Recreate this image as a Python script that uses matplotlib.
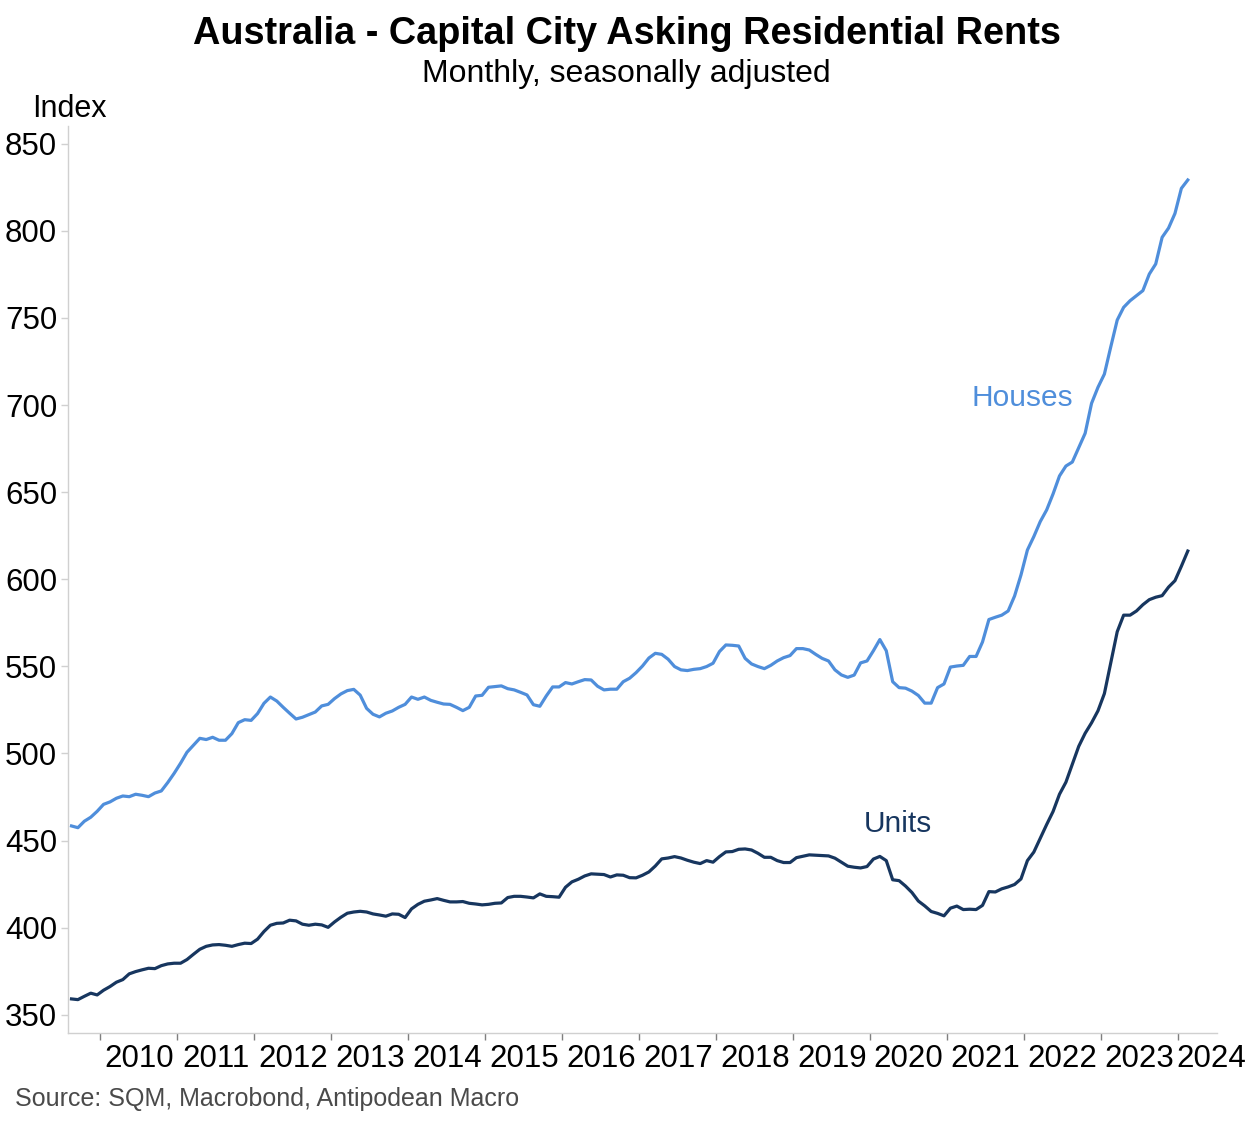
#!/usr/bin/env python3

import matplotlib

matplotlib.use("Agg")
import matplotlib.pyplot as plt
import numpy as np
from matplotlib.ticker import FixedLocator, NullFormatter

# monthly, Aug 2009 .. Feb 2024 (175 obs)
START_YEAR = 2009
START_MONTH = 8

HOUSES = [
    458.4, 457.4, 461.1, 463.4, 466.8, 470.8, 472.2, 474.3, 475.6, 475.2,
    476.6, 476.0, 475.2, 477.3, 478.5, 483.3, 488.6, 494.4, 500.7, 504.7,
    508.7, 508.0, 509.3, 507.6, 507.6, 511.4, 517.7, 519.4, 519.0, 522.9,
    528.8, 532.4, 530.1, 526.5, 523.1, 519.8, 520.8, 522.3, 523.8, 527.3,
    528.2, 531.5, 534.2, 536.1, 536.8, 533.5, 525.9, 522.5, 521.0, 523.1,
    524.4, 526.5, 528.2, 532.4, 531.1, 532.4, 530.5, 529.4, 528.4, 528.2,
    526.5, 524.6, 526.5, 533.0, 533.4, 538.0, 538.4, 538.8, 537.2, 536.5,
    535.1, 533.6, 528.0, 527.1, 533.0, 538.2, 538.2, 540.7, 539.9, 541.2,
    542.4, 542.2, 538.6, 536.5, 536.9, 536.9, 541.2, 543.2, 546.4, 550.2,
    554.8, 557.5, 556.9, 554.1, 549.9, 548.0, 547.6, 548.3, 548.7, 549.9,
    551.8, 558.5, 562.3, 562.1, 561.7, 554.6, 551.4, 549.9, 548.7, 550.6,
    553.1, 555.0, 556.2, 560.2, 560.2, 559.4, 556.9, 554.6, 553.1, 548.0,
    545.1, 543.7, 545.0, 552.0, 553.1, 559.0, 565.4, 559.0, 541.2, 537.8,
    537.5, 535.8, 533.3, 528.9, 528.9, 537.8, 539.9, 549.6, 550.2, 550.6,
    555.7, 555.7, 564.0, 576.9, 578.2, 579.4, 581.8, 590.4, 602.5, 616.8,
    624.5, 633.1, 639.8, 649.0, 659.3, 665.0, 667.3, 675.6, 683.8, 701.0,
    710.2, 717.8, 733.5, 748.8, 756.1, 759.9, 762.8, 765.7, 775.2, 781.0,
    796.3, 801.6, 810.0, 824.4, 829.2,
]

UNITS = [
    359.1, 358.7, 360.6, 362.4, 361.4, 364.1, 366.2, 368.7, 370.2, 373.5,
    374.8, 375.8, 376.7, 376.5, 378.2, 379.2, 379.6, 379.6, 381.7, 384.7,
    387.6, 389.3, 390.1, 390.3, 389.9, 389.3, 390.3, 391.1, 390.9, 393.4,
    397.8, 401.4, 402.5, 402.7, 404.3, 403.9, 402.0, 401.4, 402.0, 401.6,
    400.2, 403.3, 406.0, 408.3, 409.0, 409.4, 409.0, 407.9, 407.3, 406.6,
    407.9, 407.7, 405.8, 410.8, 413.4, 415.2, 415.9, 416.7, 415.7, 414.8,
    414.8, 415.0, 414.0, 413.6, 413.1, 413.4, 414.0, 414.2, 417.3, 418.0,
    418.0, 417.6, 417.1, 419.4, 418.0, 417.8, 417.5, 423.2, 426.3, 427.8,
    429.7, 430.9, 430.7, 430.5, 429.1, 430.3, 430.1, 428.7, 428.6, 430.1,
    432.0, 435.4, 439.5, 440.0, 440.8, 440.0, 438.7, 437.6, 436.8, 438.5,
    437.6, 440.8, 443.5, 443.7, 445.0, 445.2, 444.6, 442.7, 440.4, 440.4,
    438.5, 437.4, 437.4, 440.2, 441.0, 441.8, 441.6, 441.4, 441.2, 439.9,
    437.6, 435.3, 434.7, 434.3, 435.1, 439.4, 440.9, 438.5, 427.5, 427.0,
    423.9, 420.2, 415.3, 412.5, 409.3, 408.2, 406.8, 411.2, 412.4, 410.4,
    410.6, 410.4, 412.8, 420.7, 420.5, 422.3, 423.4, 424.8, 428.0, 438.5,
    443.4, 451.3, 459.2, 466.7, 476.6, 483.5, 493.8, 504.1, 511.6, 517.6,
    524.5, 534.4, 552.2, 569.9, 579.4, 579.4, 581.8, 585.4, 588.3, 589.7,
    590.6, 595.5, 599.2, 607.5, 616.2,
]

YEAR_TICKS = list(range(2010, 2025))
Y_TICKS = [350, 400, 450, 500, 550, 600, 650, 700, 750, 800, 850]

HOUSES_COLOR = "#4F8EDB"
UNITS_COLOR = "#17365F"
SPINE_COLOR = "#d0d0d0"
TICK_COLOR = "#7f7f7f"
SOURCE_COLOR = "#4a4a4a"
FONT = "Liberation Sans"
TICK_FONT = 22.5

plt.rcParams.update({"font.family": FONT})


def month_axis(n):
    # mid-month positions in decimal years
    start = START_YEAR + (START_MONTH - 1) / 12.0
    return start + (np.arange(n) + 0.5) / 12.0


def main():
    t = month_axis(len(HOUSES))
    x_left = START_YEAR + (START_MONTH - 1) / 12.0
    x_right = YEAR_TICKS[-1] + 0.5

    fig = plt.figure(figsize=(12.53, 11.22), dpi=100)
    ax = fig.add_axes([0.0545, 0.0791, 0.9165, 0.8086])

    ax.plot(t, HOUSES, color=HOUSES_COLOR, lw=2.3, solid_joinstyle="round")
    ax.plot(t, UNITS, color=UNITS_COLOR, lw=2.3, solid_joinstyle="round")

    ax.set_xlim(x_left, x_right)
    ax.set_ylim(339.4, 860.2)

    for side in ("top", "right"):
        ax.spines[side].set_visible(False)
    for side in ("left", "bottom"):
        ax.spines[side].set_color(SPINE_COLOR)
        ax.spines[side].set_linewidth(1.0)

    ax.set_yticks(Y_TICKS)
    ax.set_yticklabels([str(v) for v in Y_TICKS])
    ax.tick_params(axis="y", direction="out", length=5, width=1.0,
                   color=SPINE_COLOR, labelsize=TICK_FONT, pad=3)

    # year ticks at Jan 1, labels centred on the year
    ax.xaxis.set_major_locator(FixedLocator(YEAR_TICKS))
    ax.xaxis.set_major_formatter(NullFormatter())
    label_pos = [min(y + 0.5, x_right - 0.075) for y in YEAR_TICKS]
    ax.xaxis.set_minor_locator(FixedLocator(label_pos))
    ax.set_xticklabels([str(y) for y in YEAR_TICKS], minor=True)
    ax.tick_params(axis="x", which="major", direction="out", length=5,
                   width=1.0, color=TICK_COLOR)
    ax.tick_params(axis="x", which="minor", length=0, labelsize=TICK_FONT, pad=8)

    ax.text(2021.31, 699.5, "Houses", color=HOUSES_COLOR, fontsize=21.5,
            ha="left", va="baseline")
    ax.text(2019.92, 455.0, "Units", color=UNITS_COLOR, fontsize=21.5,
            ha="left", va="baseline")

    fig.text(0.5, 0.9608, "Australia - Capital City Asking Residential Rents",
             ha="center", va="baseline", fontsize=27.3, fontweight="bold")
    fig.text(0.5, 0.9269, "Monthly, seasonally adjusted",
             ha="center", va="baseline", fontsize=23)
    fig.text(0.0255, 0.8957, "Index", ha="left", va="baseline", fontsize=22)
    fig.text(0.012, 0.0143, "Source: SQM, Macrobond, Antipodean Macro",
             ha="left", va="baseline", fontsize=18, color=SOURCE_COLOR)

    fig.savefig("out.png", dpi=100, facecolor="white")
    plt.close(fig)


if __name__ == "__main__":
    main()
